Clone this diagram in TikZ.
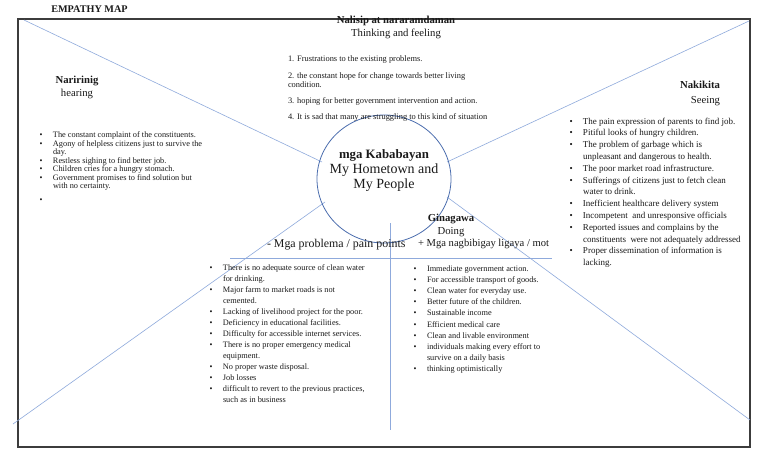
\documentclass[tikz,border=0pt]{standalone}
\usepackage{fontspec}
\setmainfont{Liberation Serif}
\usetikzlibrary{shapes.geometric}
\definecolor{diagblue}{HTML}{8FAADC}
\definecolor{circblue}{HTML}{4A6DAE}
\definecolor{framegray}{HTML}{3C3C3C}
\definecolor{txt}{HTML}{1A1A1A}
\newcommand{\bu}{\makebox[13.5pt][l]{\textbullet}}
\begin{document}
\begin{tikzpicture}[x=1pt,y=-1pt,
  every node/.style={inner sep=0pt, outer sep=0pt, text=txt},
  frameline/.style={draw=framegray, line width=1.1pt},
  diag/.style={draw=diagblue, line width=0.6pt},
  hub/.style={draw=circblue, line width=0.8pt, ellipse, minimum width=134pt, minimum height=128pt},
  head/.style={font=\fontsize{10.7}{12}\selectfont},
  hubtext/.style={font=\fontsize{14}{15}\selectfont},
  small/.style={font=\fontsize{8.4}{9}\selectfont}
]
\fill[white] (0,0) rectangle (768,466);
\path[use as bounding box] (0,0) rectangle (768,466);

% frame
\draw[frameline] (18,19) rectangle (750,447);

% named line ends
\coordinate (ulA) at (24,20);
\coordinate (ulB) at (322,162);
\coordinate (urA) at (749,21);
\coordinate (urB) at (447,162);
\coordinate (llA) at (13,424);
\coordinate (llB) at (325,202);
\coordinate (lrA) at (750,420);
\coordinate (lrB) at (447,197);
\coordinate (vT) at (390,223);
\coordinate (vB) at (390,430);
\coordinate (hL) at (230,258);
\coordinate (hR) at (552,258);

\draw[diag] (ulA) -- (ulB);
\draw[diag] (urA) -- (urB);
\draw[diag] (llA) -- (llB);
\draw[diag] (lrB) -- (lrA);
\draw[diag] (vT) -- (vB);
\draw[diag, line width=0.4pt] (hL) -- (hR);

% hub
\node[hub] (hub) at (384,179) {};
\node[font=\fontsize{12.8}{15}\selectfont\bfseries, anchor=base] (hub1) at (384,158) {mga Kababayan};
\node[hubtext, anchor=base] (hub2) at (384,173) {My Hometown and};
\node[hubtext, anchor=base] (hub3) at (384,188) {My People};

% title
\node[head, font=\fontsize{10.2}{12}\selectfont\bfseries, anchor=base] (title) at (89.5,12.8) {EMPATHY MAP};

% headings
\node[head, font=\fontsize{10.7}{12}\selectfont\bfseries, anchor=base] (nal) at (396,23.5) {Nalisip at nararamdaman};
\node[head, anchor=base] (think) at (396,36.5) {Thinking and feeling};
\node[head, font=\fontsize{10.7}{12}\selectfont\bfseries, anchor=base] (nar) at (77,83.5) {Naririnig};
\node[head, anchor=base] (hear) at (77,96) {hearing};
\node[head, font=\fontsize{10.7}{12}\selectfont\bfseries, anchor=base east] (nak) at (720,88.5) {Nakikita};
\node[head, anchor=base east] (see) at (720,103.5) {Seeing};
\node[head, font=\fontsize{10.7}{12}\selectfont\bfseries, anchor=base] (gin) at (451,221) {Ginagawa};
\node[head, anchor=base] (doing) at (451,234) {Doing};
\node[font=\fontsize{11.9}{13}\selectfont, anchor=base west] (pain) at (267,247) {- Mga problema / pain points};
\node[font=\fontsize{10.6}{13}\selectfont, anchor=base west] (gain) at (418,246.5) {+ Mga nagbibigay ligaya / mot};

% thinking list
\node[anchor=base west] (thinklist) at (288,61.5) {\fontsize{8.4}{9}\selectfont\begin{tabular}[t]{@{}l@{}}
1. Frustrations to the existing problems.\\[8pt]
2. the constant hope for change towards better living\\
condition.\\[7pt]
3. hoping for better government intervention and action.\\[7pt]
4. It is sad that many are struggling to this kind of situation
\end{tabular}};

% hearing list
\node[anchor=base west] (hearlist) at (39.5,137.5) {\fontsize{8.3}{8.5}\selectfont\begin{tabular}[t]{@{}l@{}l@{}}
\bu & The constant complaint of the constituents.\\
\bu & Agony of helpless citizens just to survive the\\
 & day.\\
\bu & Restless sighing to find better job.\\
\bu & Children cries for a hungry stomach.\\
\bu & Government promises to find solution but\\
 & with no certainty.\\[5.5pt]
\bu & \\
\end{tabular}};

% seeing list
\node[anchor=base west] (seelist) at (569.5,124) {\fontsize{9}{11.8}\selectfont\begin{tabular}[t]{@{}l@{}l@{}}
\bu & The pain expression of parents to find job.\\
\bu & Pitiful looks of hungry children.\\
\bu & The problem of garbage which is\\
 & unpleasant and dangerous to health.\\
\bu & The poor market road infrastructure.\\
\bu & Sufferings of citizens just to fetch clean\\
 & water to drink.\\
\bu & Inefficient healthcare delivery system\\
\bu & Incompetent\ \ and unresponsive officials\\
\bu & Reported issues and complains by the\\
 & constituents\ \ were not adequately addressed\\
\bu & Proper dissemination of information is\\
 & lacking.\\
\end{tabular}};

% problems list
\node[anchor=base west] (painlist) at (209.5,270.5) {\fontsize{8.3}{11}\selectfont\begin{tabular}[t]{@{}l@{}l@{}}
\makebox[12.5pt][l]{\textbullet} & There is no adequate source of clean water\\
 & for drinking.\\
\bu & Major farm to market roads is not\\
 & cemented.\\
\bu & Lacking of livelihood project for the poor.\\
\bu & Deficiency in educational facilities.\\
\bu & Difficulty for accessible internet services.\\
\bu & There is no proper emergency medical\\
 & equipment.\\
\bu & No proper waste disposal.\\
\bu & Job losses\\
\bu & difficult to revert to the previous practices,\\
 & such as in business\\
\end{tabular}};

% gains list
\node[anchor=base west] (gainlist) at (413.5,271.5) {\fontsize{8.3}{11.1}\selectfont\begin{tabular}[t]{@{}l@{}l@{}}
\bu & Immediate government action.\\
\bu & For accessible transport of goods.\\
\bu & Clean water for everyday use.\\
\bu & Better future of the children.\\
\bu & Sustainable income\\
\bu & Efficient medical care\\
\bu & Clean and livable environment\\
\bu & individuals making every effort to\\
 & survive on a daily basis\\
\bu & thinking optimistically\\
\end{tabular}};
\end{tikzpicture}
\end{document}
